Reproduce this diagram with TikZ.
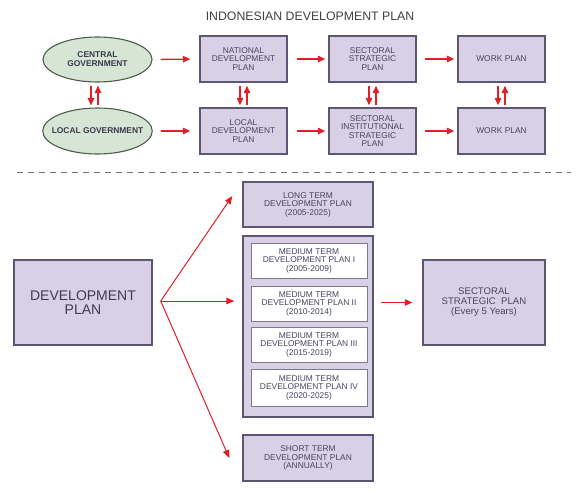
\documentclass[tikz,border=0pt]{standalone}
\usepackage{fontspec}
\setmainfont{Liberation Sans}
\usetikzlibrary{arrows.meta,shapes.geometric}
\definecolor{boxfill}{HTML}{D8D0E4}
\definecolor{boxdraw}{HTML}{5E5476}
\definecolor{ellfill}{HTML}{D5E6D5}
\definecolor{elldraw}{HTML}{4E5C4E}
\definecolor{txt}{HTML}{4A4562}
\definecolor{arr}{HTML}{E02028}
\tikzset{
  plan/.style={draw=boxdraw, fill=boxfill, line width=1.4pt, text=txt, align=center, inner sep=1pt,
    font=\fontsize{8.4}{8.5}\selectfont},
  gov/.style={ellipse, draw=elldraw, fill=ellfill, line width=1.1pt, text=txt!80!black, align=center,
    inner xsep=-7pt, inner ysep=0pt, minimum width=109pt, minimum height=45pt, font=\fontsize{8.4}{9}\selectfont\bfseries},
  inner/.style={draw=boxdraw!80, fill=white, line width=1pt, text=txt, align=center, inner sep=1pt,
    minimum width=116pt, minimum height=35pt, font=\fontsize{8.4}{8.5}\selectfont},
  redarrow/.style={draw=arr, line width=1.3pt, -{Triangle[length=7.5pt,width=6.5pt]}},
  thinred/.style={draw=arr, line width=1pt, -{Triangle[length=8pt,width=6.5pt]}},
}
\begin{document}
\begin{tikzpicture}[x=1pt,y=-1pt]
\useasboundingbox (0,0) rectangle (588,493);
\fill[white] (0,0) rectangle (588,493);
% title
\node[text=black!75, font=\fontsize{12.3}{13}\selectfont] (title) at (310,16) {INDONESIAN DEVELOPMENT PLAN};
% top section
\node[gov] (cg) at (97.5,59.5) {CENTRAL\\GOVERNMENT};
\node[gov, minimum height=46pt] (lg) at (97.5,131) {LOCAL GOVERNMENT};
\node[plan, minimum width=87pt, minimum height=46pt] (ndp) at (243.5,59) {NATIONAL\\DEVELOPMENT\\PLAN};
\node[plan, minimum width=87pt, minimum height=46pt] (ldp) at (243.5,131) {LOCAL\\DEVELOPMENT\\PLAN};
\node[plan, minimum width=87pt, minimum height=46pt] (ssp) at (372.5,59) {SECTORAL\\STRATEGIC\\PLAN};
\node[plan, minimum width=87pt, minimum height=46pt] (sisp) at (372.5,131) {SECTORAL\\INSTITUTIONAL\\STRATEGIC\\PLAN};
\node[plan, minimum width=87pt, minimum height=46pt] (wp1) at (501.5,59) {WORK PLAN};
\node[plan, minimum width=87pt, minimum height=46pt] (wp2) at (501.5,131) {WORK PLAN};
% horizontal arrows
\draw[redarrow, shorten <=8pt, shorten >=9pt] (cg.east) -- (ndp.west);
\draw[redarrow, shorten <=8pt, shorten >=9pt] (lg.east) -- (ldp.west);
\draw[redarrow, shorten <=9pt, shorten >=3pt] (ndp.east) -- (ssp.west);
\draw[redarrow, shorten <=9pt, shorten >=3pt] (ldp.east) -- (sisp.west);
\draw[redarrow, shorten <=8pt, shorten >=3pt] (ssp.east) -- (wp1.west);
\draw[redarrow, shorten <=8pt, shorten >=3pt] (sisp.east) -- (wp2.west);
% vertical double arrows
\foreach \a/\b/\dx in {cg/lg/-3, ndp/ldp/0, ssp/sisp/0, wp1/wp2/0}{
  \draw[redarrow, shorten <=3pt, shorten >=2pt] ([xshift=\dx pt-3.5pt]\a.south) -- ([xshift=\dx pt-3.5pt]\b.north);
  \draw[redarrow, shorten <=2pt, shorten >=3pt] ([xshift=\dx pt+3.5pt]\b.north) -- ([xshift=\dx pt+3.5pt]\a.south);
}
% dashed separator
\coordinate (dl) at (17,172);
\coordinate (dr) at (571,172);
\draw[black!55, line width=0.9pt, dash pattern=on 6pt off 5pt] (dl) -- (dr);
% bottom section
\node[plan, minimum width=138pt, minimum height=85pt, font=\fontsize{14}{13.5}\selectfont, text=txt!85!black] (dp) at (83,302.5) {DEVELOPMENT\\PLAN};
\node[plan, minimum width=130pt, minimum height=45pt] (ltp) at (308,204.5) {LONG TERM\\DEVELOPMENT PLAN\\(2005-2025)};
\node[plan, minimum width=130pt, minimum height=181pt] (mc) at (308,326.5) {};
\node[inner] (m1) at (309,260.5) {MEDIUM TERM\\DEVELOPMENT PLAN I\\(2005-2009)};
\node[inner] (m2) at (309,303.5) {MEDIUM TERM\\DEVELOPMENT PLAN II\\(2010-2014)};
\node[inner] (m3) at (309,344.5) {MEDIUM TERM\\DEVELOPMENT PLAN III\\(2015-2019)};
\node[inner, minimum height=37pt] (m4) at (309,387.5) {MEDIUM TERM\\DEVELOPMENT PLAN IV\\(2020-2025)};
\node[plan, minimum width=130pt, minimum height=46pt] (stp) at (308,458) {SHORT TERM\\DEVELOPMENT PLAN\\(ANNUALLY)};
\node[plan, minimum width=122pt, minimum height=85pt, font=\fontsize{9.6}{10}\selectfont] (sec) at (484,302.5) {SECTORAL\\STRATEGIC\ \ PLAN\\(Every 5 Years)};
% fan arrows
\coordinate (o) at ([xshift=8pt,yshift=1.5pt]dp.east);
\draw[thinred] (o) -- ([shift={(-10,-8.5)}]ltp.west);
\draw[thinred] (o) -- ([xshift=-8pt]o -| mc.west);
\draw[thinred] (o) -- ([shift={(-13,0)}]stp.west);
\draw[redarrow, shorten <=7pt, shorten >=10pt] (mc.east |- sec.west) -- (sec.west);
\end{tikzpicture}
\end{document}
